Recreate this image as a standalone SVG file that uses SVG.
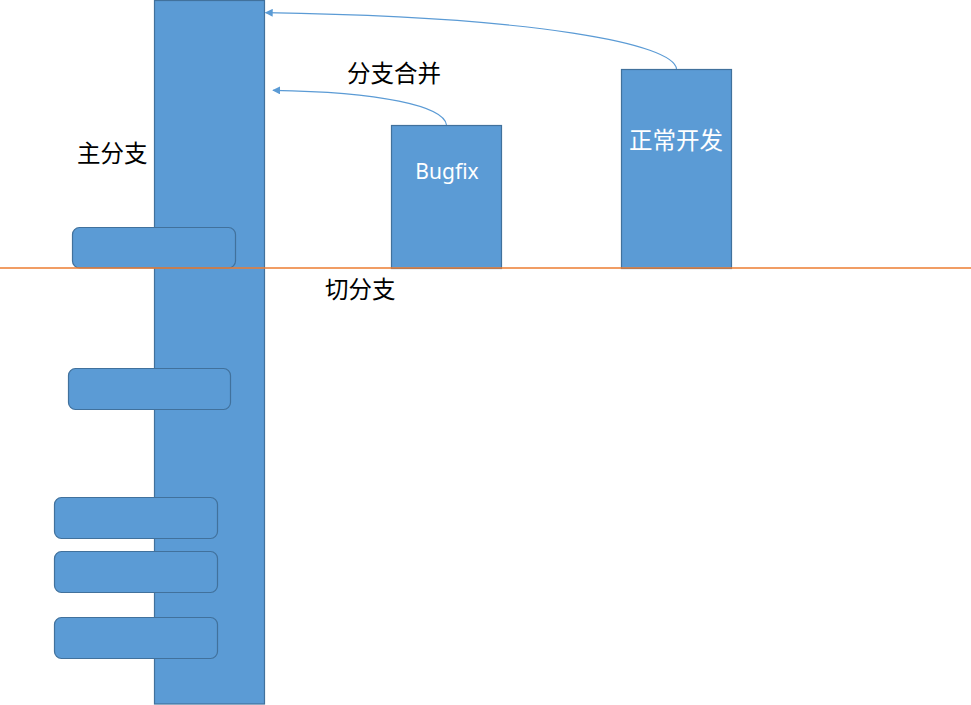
<svg xmlns="http://www.w3.org/2000/svg" width="971" height="705" viewBox="0 0 971 705">
<style>
.box{fill:#5B9BD5;stroke:#41719C;stroke-width:1.2}
.lbl{font-family:"Noto Sans CJK SC","Noto Sans",sans-serif;font-size:23.5px;fill:#000}
.wt{font-family:"Noto Sans","Noto Sans CJK SC",sans-serif;font-size:21px;fill:#fff;text-anchor:middle}
.arr{fill:none;stroke:#5B9BD5;stroke-width:1.2;marker-end:url(#ah)}
</style>
<defs>
<marker id="ah" viewBox="0 0 10 10" refX="9" refY="5" markerWidth="8" markerHeight="8" markerUnits="userSpaceOnUse" orient="auto">
<path d="M0,0 L10,5 L0,10 z" fill="#5B9BD5"/>
</marker>
</defs>
<rect width="971" height="705" fill="#fff"/>
<g id="main"><rect class="box" x="154.5" y="0.5" width="110" height="703.5"/></g>
<g id="r1"><rect class="box" x="72.5" y="227.5" width="163" height="40.5" rx="7"/></g>
<g id="r2"><rect class="box" x="68.5" y="368.5" width="162" height="41" rx="7"/></g>
<g id="r3"><rect class="box" x="54.5" y="497.5" width="163" height="41" rx="7"/></g>
<g id="r4"><rect class="box" x="54.5" y="551.5" width="163" height="41" rx="7"/></g>
<g id="r5"><rect class="box" x="54.5" y="617.5" width="163" height="41" rx="7"/></g>
<g id="bugfix"><rect class="box" x="391.5" y="125.5" width="110" height="143"/><text class="wt" x="447" y="179">Bugfix</text></g>
<g id="dev"><rect class="box" x="621.5" y="69.5" width="110" height="199"/><text class="wt" x="676" y="149" font-family="Noto Sans CJK SC" style="font-size:23.5px">正常开发</text></g>
<g id="line"><line x1="0" y1="268" x2="971" y2="268" stroke="#ED7D31" stroke-width="1.3"/></g>
<g id="connectors">
<path class="arr" d="M676.5,69 C674,44 540,17 265.5,12.7"/>
<path class="arr" d="M446.5,125 C444,106 380,92 273,90.3"/>
</g>
<g id="labels">
<text class="lbl" x="77" y="162">主分支</text>
<text class="lbl" x="347" y="82">分支合并</text>
<text class="lbl" x="325" y="298">切分支</text>
</g>
</svg>
